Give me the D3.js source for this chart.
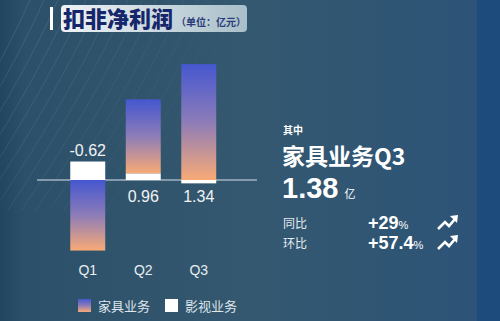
<!DOCTYPE html>
<html>
<head>
<meta charset="utf-8">
<script src="https://cdn.jsdelivr.net/npm/d3@7"></script>
<style>
  html, body { margin: 0; padding: 0; background: #2f5270; }
  svg { display: block; }
</style>
</head>
<body>
<div id="chart"></div>
<script>
// data
const quarters = ['Q1', 'Q2', 'Q3'];
const furniture = [-0.84, 0.88, 1.38];   // 家具业务
const film = [0.22, 0.08, -0.04];        // 影视业务
const totalLabels = ['-0.62', '0.96', '1.34'];
const seriesNames = ['家具业务', '影视业务'];

const width = 500;
const height = 321;
const cjk = '"Noto Sans CJK SC", "Noto Sans", sans-serif';
const num = '"Liberation Sans", Arial, sans-serif';

const svg = d3
  .select('#chart')
  .append('svg')
  .attr('width', width)
  .attr('height', height);

const defs = svg.append('defs');

// background
const bg = defs.append('linearGradient').attr('id', 'bg').attr('x1', 0).attr('x2', 1).attr('y1', 0).attr('y2', 0);
bg.append('stop').attr('offset', '0%').attr('stop-color', '#22465f');
bg.append('stop').attr('offset', '5%').attr('stop-color', '#2d506a');
bg.append('stop').attr('offset', '50%').attr('stop-color', '#34586f');
bg.append('stop').attr('offset', '95%').attr('stop-color', '#2d5478');
bg.append('stop').attr('offset', '100%').attr('stop-color', '#2d5478');
svg.append('rect').attr('width', width).attr('height', height).attr('fill', 'url(#bg)');
svg.append('rect').attr('x', 477).attr('width', 23).attr('height', height).attr('fill', '#1c4b7c');

// faint diagonal streaks top-left
const streaks = svg.append('g').attr('stroke', '#ffffff').attr('fill', 'none').attr('stroke-width', 0.8);
d3.range(16).forEach((i) => {
  const x0 = 30 + i * 14;
  streaks
    .append('path')
    .attr('d', `M${x0},0 Q${x0 - 40},${90} ${x0 - 120},${210}`)
    .attr('stroke-opacity', 0.13 - i * 0.007);
});

// bar gradient
const grad = defs.append('linearGradient').attr('id', 'barGrad').attr('x1', 0).attr('x2', 0).attr('y1', 0).attr('y2', 1);
grad.append('stop').attr('offset', '0%').attr('stop-color', '#4557cf');
grad.append('stop').attr('offset', '50%').attr('stop-color', '#8d7cb8');
grad.append('stop').attr('offset', '100%').attr('stop-color', '#f8aa76');

// title
const titleGrad = defs.append('linearGradient').attr('id', 'titleGrad').attr('x1', 0).attr('x2', 1).attr('y1', 0).attr('y2', 0);
titleGrad.append('stop').attr('offset', '0%').attr('stop-color', '#eef3f6');
titleGrad.append('stop').attr('offset', '100%').attr('stop-color', '#a9bfc9');
svg.append('rect').attr('x', 50).attr('y', 7).attr('width', 3).attr('height', 23).attr('fill', '#ffffff');
svg.append('rect').attr('x', 61).attr('y', 5).attr('width', 186).attr('height', 27).attr('rx', 4).attr('fill', 'url(#titleGrad)');
svg.append('text')
  .attr('x', 63).attr('y', 27)
  .style('font-family', cjk).style('font-weight', 900).style('font-size', '22px')
  .attr('fill', '#16266a')
  .text('扣非净利润');
svg.append('text')
  .attr('x', 176).attr('y', 26)
  .style('font-family', cjk).style('font-weight', 700).style('font-size', '10px')
  .attr('fill', '#2a3c7a')
  .text('（单位：亿元）');

// scales
const x = d3.scaleBand().domain(quarters).range([60, 226.5]).paddingInner(0.37).paddingOuter(0.185);
const y = d3.scaleLinear().domain([-1, 1.5]).range([264, 54]);

const rows = quarters.map((q, i) => ({ q, film: film[i], furniture: furniture[i] }));
const stacked = d3.stack().keys(['film', 'furniture']).offset(d3.stackOffsetDiverging)(rows);

// baseline
svg.append('line')
  .attr('x1', 37).attr('x2', 257)
  .attr('y1', y(0)).attr('y2', y(0))
  .attr('stroke', '#9fb3c2').attr('stroke-width', 1.5);

// bars
const fills = { film: '#ffffff', furniture: 'url(#barGrad)' };
stacked.forEach((layer) => {
  svg.append('g')
    .selectAll('rect')
    .data(layer)
    .enter()
    .append('rect')
    .attr('x', (d) => x(d.data.q))
    .attr('y', (d) => y(Math.max(d[0], d[1])))
    .attr('width', x.bandwidth())
    .attr('height', (d) => Math.abs(y(d[0]) - y(d[1])))
    .attr('fill', fills[layer.key]);
});

// total labels
svg.append('g')
  .selectAll('text')
  .data(rows)
  .enter()
  .append('text')
  .attr('x', (d) => x(d.q) + x.bandwidth() / 2)
  .attr('y', (d) => (d.furniture + d.film < 0 ? y(Math.max(d.film, 0)) - 6 : y(0) + 22))
  .attr('text-anchor', 'middle')
  .style('font-family', num).style('font-size', '16px')
  .attr('fill', '#f2f2f2')
  .text((d, i) => totalLabels[i]);

// x axis labels
svg.append('g')
  .attr('transform', 'translate(0,275)')
  .call(d3.axisBottom(x).tickSize(0).tickPadding(0))
  .call((g) => g.select('.domain').remove())
  .selectAll('text')
  .attr('dy', 0)
  .style('font-family', num).style('font-size', '14px')
  .attr('fill', '#e8eef2');

// legend
const legend = svg.append('g');
[['url(#barGrad)', 78], ['#ffffff', 165]].forEach(([fill, lx], i) => {
  legend.append('rect').attr('x', lx).attr('y', 299).attr('width', 13).attr('height', 13).attr('fill', fill);
  legend.append('text')
    .attr('x', lx + 20).attr('y', 311)
    .style('font-family', cjk).style('font-size', '13px')
    .attr('fill', '#dfe6ec')
    .text(seriesNames[i]);
});

// right panel
const panel = svg.append('g').attr('fill', '#ffffff');
panel.append('text').attr('x', 283).attr('y', 134)
  .style('font-family', cjk).style('font-weight', 700).style('font-size', '10px').text('其中');
panel.append('text').attr('x', 282).attr('y', 165)
  .style('font-family', cjk).style('font-weight', 700).style('font-size', '23px').text('家具业务Q3');
const big = panel.append('text').attr('x', 282).attr('y', 198)
  .style('font-family', num).style('font-weight', 700).style('font-size', '29px');
big.append('tspan').text('1.38');
big.append('tspan').attr('dx', 6).style('font-family', cjk).style('font-size', '11px').style('font-weight', 400).text('亿');

const stats = [['同比', '+29', 229], ['环比', '+57.4', 249]];
stats.forEach(([label, val, ty]) => {
  panel.append('text').attr('x', 283).attr('y', ty - 1)
    .style('font-family', cjk).style('font-size', '12px').attr('fill', '#e6edf2').text(label);
  const t = panel.append('text').attr('x', 368).attr('y', ty)
    .style('font-family', num).style('font-weight', 700).style('font-size', '18px');
  t.append('tspan').text(val);
  t.append('tspan').style('font-size', '11px').style('font-weight', 400).text('%');
  // up-trend arrow
  const ay = ty - 12;
  svg.append('path')
    .attr('d', `M438,${ay + 12} L445,${ay + 5} L449,${ay + 9} L455,${ay + 2}`)
    .attr('fill', 'none').attr('stroke', '#ffffff').attr('stroke-width', 2.6)
    .attr('stroke-linejoin', 'miter');
  svg.append('path')
    .attr('d', `M450,${ay - 1} L458,${ay - 2} L457,${ay + 6} Z`)
    .attr('fill', '#ffffff');
});
</script>
</body>
</html>
